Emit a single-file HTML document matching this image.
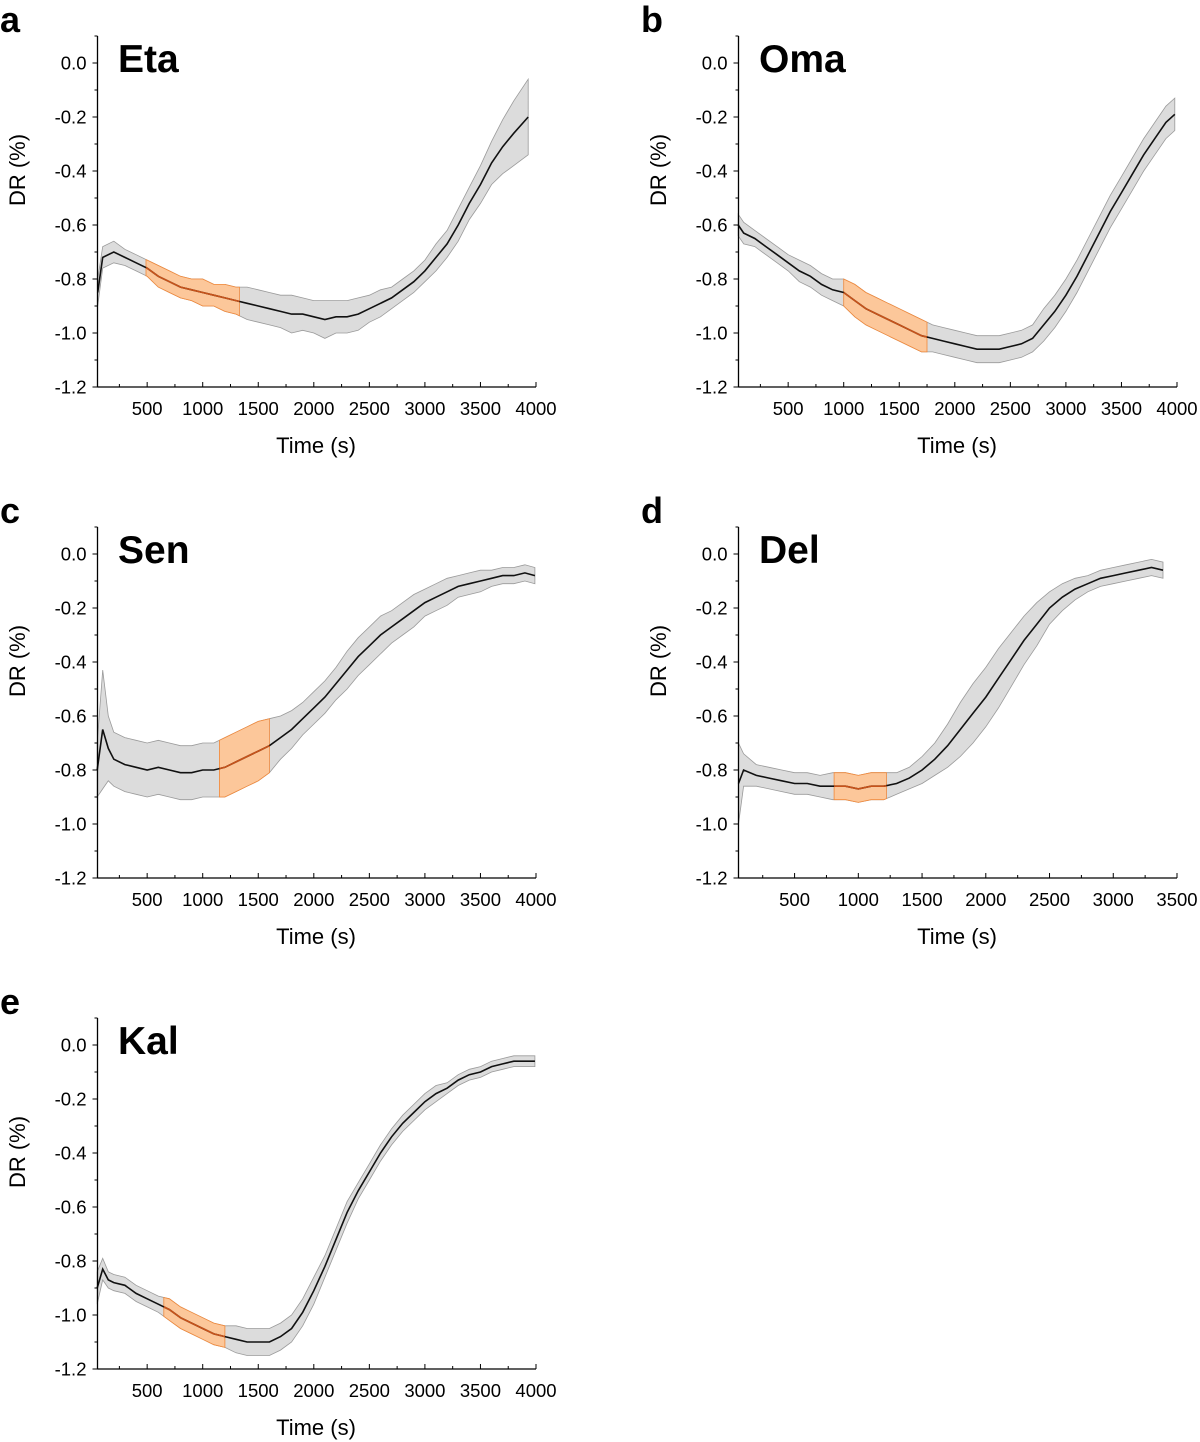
<!DOCTYPE html>
<html><head><meta charset="utf-8">
<style>
html,body{margin:0;padding:0;background:#fff;}
svg{display:block;font-family:"Liberation Sans",Arial,sans-serif;}
</style></head>
<body>
<svg id="fig" width="1200" height="1442" viewBox="0 0 1200 1442"></svg>
<script>
// ---------- data ----------
const etaTime = [55,100,200,300,400,500,600,700,800,900,1000,1100,1200,1300,1400,1500,1600,1700,1800,1900,2000,2100,2200,2300,2400,2500,2600,2700,2800,2900,3000,3100,3200,3300,3400,3500,3600,3700,3800,3930];
const etaMean = [-0.85,-0.72,-0.70,-0.72,-0.74,-0.76,-0.79,-0.81,-0.83,-0.84,-0.85,-0.86,-0.87,-0.88,-0.89,-0.90,-0.91,-0.92,-0.93,-0.93,-0.94,-0.95,-0.94,-0.94,-0.93,-0.91,-0.89,-0.87,-0.84,-0.81,-0.77,-0.72,-0.67,-0.60,-0.52,-0.45,-0.37,-0.31,-0.26,-0.20];
const etaSd   = [0.05,0.04,0.04,0.03,0.03,0.03,0.04,0.04,0.04,0.04,0.05,0.04,0.05,0.05,0.06,0.06,0.06,0.06,0.07,0.06,0.06,0.07,0.06,0.06,0.06,0.05,0.05,0.04,0.04,0.04,0.04,0.05,0.05,0.06,0.06,0.07,0.08,0.10,0.12,0.14];
const etaHighlight = [490,1330];

const omaTime = [50,100,200,300,400,500,600,700,800,900,1000,1100,1200,1300,1400,1500,1600,1700,1800,1900,2000,2100,2200,2300,2400,2500,2600,2700,2800,2900,3000,3100,3200,3300,3400,3500,3600,3700,3800,3900,3980];
const omaMean = [-0.60,-0.63,-0.65,-0.68,-0.71,-0.74,-0.77,-0.79,-0.82,-0.84,-0.85,-0.88,-0.91,-0.93,-0.95,-0.97,-0.99,-1.01,-1.02,-1.03,-1.04,-1.05,-1.06,-1.06,-1.06,-1.05,-1.04,-1.02,-0.97,-0.92,-0.86,-0.79,-0.71,-0.63,-0.55,-0.48,-0.41,-0.34,-0.28,-0.22,-0.19];
const omaSd   = [0.04,0.04,0.03,0.03,0.03,0.03,0.04,0.04,0.04,0.04,0.05,0.06,0.06,0.06,0.06,0.06,0.06,0.06,0.05,0.05,0.05,0.05,0.05,0.05,0.05,0.05,0.05,0.05,0.06,0.06,0.06,0.06,0.06,0.06,0.06,0.06,0.06,0.06,0.06,0.06,0.06];
const omaHighlight = [1000,1750];

const senTime = [50,100,150,200,300,400,500,600,700,800,900,1000,1100,1200,1300,1400,1500,1600,1700,1800,1900,2000,2100,2200,2300,2400,2500,2600,2700,2800,2900,3000,3100,3200,3300,3400,3500,3600,3700,3800,3900,3990];
const senMean = [-0.80,-0.65,-0.72,-0.76,-0.78,-0.79,-0.80,-0.79,-0.80,-0.81,-0.81,-0.80,-0.80,-0.79,-0.77,-0.75,-0.73,-0.71,-0.68,-0.65,-0.61,-0.57,-0.53,-0.48,-0.43,-0.38,-0.34,-0.30,-0.27,-0.24,-0.21,-0.18,-0.16,-0.14,-0.12,-0.11,-0.10,-0.09,-0.08,-0.08,-0.07,-0.08];
const senSd   = [0.10,0.22,0.12,0.10,0.10,0.10,0.10,0.10,0.10,0.10,0.10,0.10,0.10,0.11,0.11,0.11,0.11,0.10,0.08,0.07,0.06,0.06,0.06,0.06,0.07,0.07,0.07,0.07,0.06,0.06,0.06,0.05,0.05,0.05,0.04,0.04,0.04,0.03,0.03,0.03,0.03,0.03];
const senHighlight = [1150,1600];

const delTime = [60,100,200,300,400,500,600,700,800,900,1000,1100,1200,1300,1400,1500,1600,1700,1800,1900,2000,2100,2200,2300,2400,2500,2600,2700,2800,2900,3000,3100,3200,3300,3390];
const delMean = [-0.85,-0.80,-0.82,-0.83,-0.84,-0.85,-0.85,-0.86,-0.86,-0.86,-0.87,-0.86,-0.86,-0.85,-0.83,-0.80,-0.76,-0.71,-0.65,-0.59,-0.53,-0.46,-0.39,-0.32,-0.26,-0.20,-0.16,-0.13,-0.11,-0.09,-0.08,-0.07,-0.06,-0.05,-0.06];
const delSd   = [0.15,0.06,0.04,0.04,0.04,0.04,0.04,0.04,0.05,0.05,0.05,0.05,0.05,0.04,0.04,0.05,0.06,0.08,0.10,0.11,0.11,0.11,0.10,0.09,0.08,0.06,0.05,0.04,0.03,0.03,0.03,0.03,0.03,0.03,0.03];
const delHighlight = [810,1220];

const kalTime = [50,100,150,200,300,400,500,600,700,800,900,1000,1100,1200,1300,1400,1500,1600,1700,1800,1900,2000,2100,2200,2300,2400,2500,2600,2700,2800,2900,3000,3100,3200,3300,3400,3500,3600,3700,3800,3900,3990];
const kalMean = [-0.90,-0.83,-0.87,-0.88,-0.89,-0.92,-0.94,-0.96,-0.98,-1.01,-1.03,-1.05,-1.07,-1.08,-1.09,-1.10,-1.10,-1.10,-1.08,-1.05,-0.99,-0.91,-0.82,-0.72,-0.62,-0.54,-0.47,-0.40,-0.34,-0.29,-0.25,-0.21,-0.18,-0.16,-0.13,-0.11,-0.10,-0.08,-0.07,-0.06,-0.06,-0.06];
const kalSd   = [0.06,0.04,0.03,0.03,0.03,0.03,0.03,0.03,0.04,0.04,0.04,0.04,0.04,0.04,0.05,0.05,0.05,0.05,0.05,0.05,0.05,0.05,0.04,0.04,0.04,0.03,0.03,0.03,0.03,0.03,0.03,0.03,0.03,0.02,0.02,0.02,0.02,0.02,0.02,0.02,0.02,0.02];
const kalHighlight = [650,1200];

const yTicks = [0.0,-0.2,-0.4,-0.6,-0.8,-1.0,-1.2];
const xTicks4000 = [500,1000,1500,2000,2500,3000,3500,4000];
const xTicks3500 = [500,1000,1500,2000,2500,3000,3500];

// ---------- drawing ----------
const NS = "http://www.w3.org/2000/svg";
const svg = document.getElementById("fig");
function mk(tag, attrs, parent){
  const e = document.createElementNS(NS, tag);
  for (const k in attrs) e.setAttribute(k, attrs[k]);
  (parent||svg).appendChild(e);
  return e;
}
function interp(ts, vs, t){
  for (let i=1;i<ts.length;i++){
    if (t<=ts[i]){ const f=(t-ts[i-1])/(ts[i]-ts[i-1]); return vs[i-1]+f*(vs[i]-vs[i-1]); }
  }
  return vs[vs.length-1];
}

const panels = [
  {letter:"a", name:"Eta", t:etaTime, m:etaMean, s:etaSd, hl:etaHighlight, ox:0, oy:0, xmin:53, xmax:4000, xt:xTicks4000},
  {letter:"b", name:"Oma", t:omaTime, m:omaMean, s:omaSd, hl:omaHighlight, ox:641, oy:0, xmin:53, xmax:4000, xt:xTicks4000},
  {letter:"c", name:"Sen", t:senTime, m:senMean, s:senSd, hl:senHighlight, ox:0, oy:491, xmin:53, xmax:4000, xt:xTicks4000},
  {letter:"d", name:"Del", t:delTime, m:delMean, s:delSd, hl:delHighlight, ox:641, oy:491, xmin:60, xmax:3500, xt:xTicks3500},
  {letter:"e", name:"Kal", t:kalTime, m:kalMean, s:kalSd, hl:kalHighlight, ox:0, oy:982, xmin:53, xmax:4000, xt:xTicks4000}
];

panels.forEach(p=>{
  const L = 97.5 + p.ox, R = 536 + p.ox;
  const y0 = 63 + p.oy;
  const pxPer = 54/0.2;
  const Y = v => y0 - v*pxPer;
  const X = t => L + (t - p.xmin)/(p.xmax - p.xmin)*(R - L);
  const g = mk("g", {});
  
  

  const lt = mk("text", {x:p.ox+0, y:p.oy+32, "font-size":36, "font-weight":"bold", fill:"#000"}, g);
  lt.textContent = p.letter;
  
  

  // build point lists (full and highlighted w/ interpolated ends)
  const full = p.t.map((t,i)=>({t:t, m:p.m[i], s:p.s[i]}));
  const hl = [{t:p.hl[0], m:interp(p.t,p.m,p.hl[0]), s:interp(p.t,p.s,p.hl[0])}]
    .concat(full.filter(q=>q.t>p.hl[0] && q.t<p.hl[1]))
    .concat([{t:p.hl[1], m:interp(p.t,p.m,p.hl[1]), s:interp(p.t,p.s,p.hl[1])}]);
  function bandPath(pts){
    let d = "";
    pts.forEach((q,k)=>{ d += (k?"L":"M") + X(q.t).toFixed(1) + "," + Y(q.m+q.s).toFixed(1); });
    pts.slice().reverse().forEach(q=>{ d += "L" + X(q.t).toFixed(1) + "," + Y(q.m-q.s).toFixed(1); });
    return d + "Z";
  }
  function linePath(pts){
    return pts.map((q,k)=>(k?"L":"M") + X(q.t).toFixed(1) + "," + Y(q.m).toFixed(1)).join("");
  }
  const gray = mk("path", {d:bandPath(full), fill:"#dcdcdc", stroke:"#9a9a9a", "stroke-width":0.8}, g);
  
  
  const orange = mk("path", {d:bandPath(hl), fill:"#fcc79a", stroke:"#f0883a", "stroke-width":0.8}, g);
  
  
  const ml = mk("path", {d:linePath(full), fill:"none", stroke:"#111", "stroke-width":1.6}, g);
  
  
  const ol = mk("path", {d:linePath(hl), fill:"none", stroke:"#c8531a", "stroke-width":1.6}, g);
  
  

  const top = Y(0.1), bot = Y(-1.2);
  const ya = mk("line", {x1:L, y1:top, x2:L, y2:bot, stroke:"#000", "stroke-width":1.3}, g);
  
  
  const xa = mk("line", {x1:L, y1:bot, x2:R, y2:bot, stroke:"#000", "stroke-width":1.3}, g);
  
  

  for (let v=0.1; v>=-1.21; v-=0.1){
    const major = Math.abs(Math.round(v*10))%2===0;
    mk("line", {x1:L-(major?5:3), y1:Y(v), x2:L, y2:Y(v), stroke:"#000", "stroke-width":1}, g);
  }
  yTicks.forEach(v=>{
    const t = mk("text", {x:L-11, y:Y(v)+6.5, "font-size":18.5, "text-anchor":"end", fill:"#000"}, g);
    t.textContent = v.toFixed(1);
    
    
  });
  for (let t=250; t<=p.xmax; t+=250){
    if (t < p.xmin) continue;
    const major = t%500===0;
    mk("line", {x1:X(t), y1:bot, x2:X(t), y2:bot-(major?5:3), stroke:"#000", "stroke-width":1}, g);
  }
  p.xt.forEach(v=>{
    const t = mk("text", {x:X(v), y:bot+28, "font-size":18.5, "text-anchor":"middle", fill:"#000"}, g);
    t.textContent = v;
    
    
  });
  const xt = mk("text", {x:p.ox+316, y:p.oy+453, "font-size":22, "text-anchor":"middle", fill:"#000"}, g);
  xt.textContent = "Time (s)";
  
  
  const yt = mk("text", {x:0, y:0, "font-size":22, "text-anchor":"middle", fill:"#000", transform:`translate(${p.ox+25},${p.oy+170}) rotate(-90)`}, g);
  yt.textContent = "DR (%)";
  
  
  const nm = mk("text", {x:p.ox+118, y:p.oy+72, "font-size":39, "font-weight":"bold", fill:"#000"}, g);
  nm.textContent = p.name;
  
  
});
</script>
</body></html>
